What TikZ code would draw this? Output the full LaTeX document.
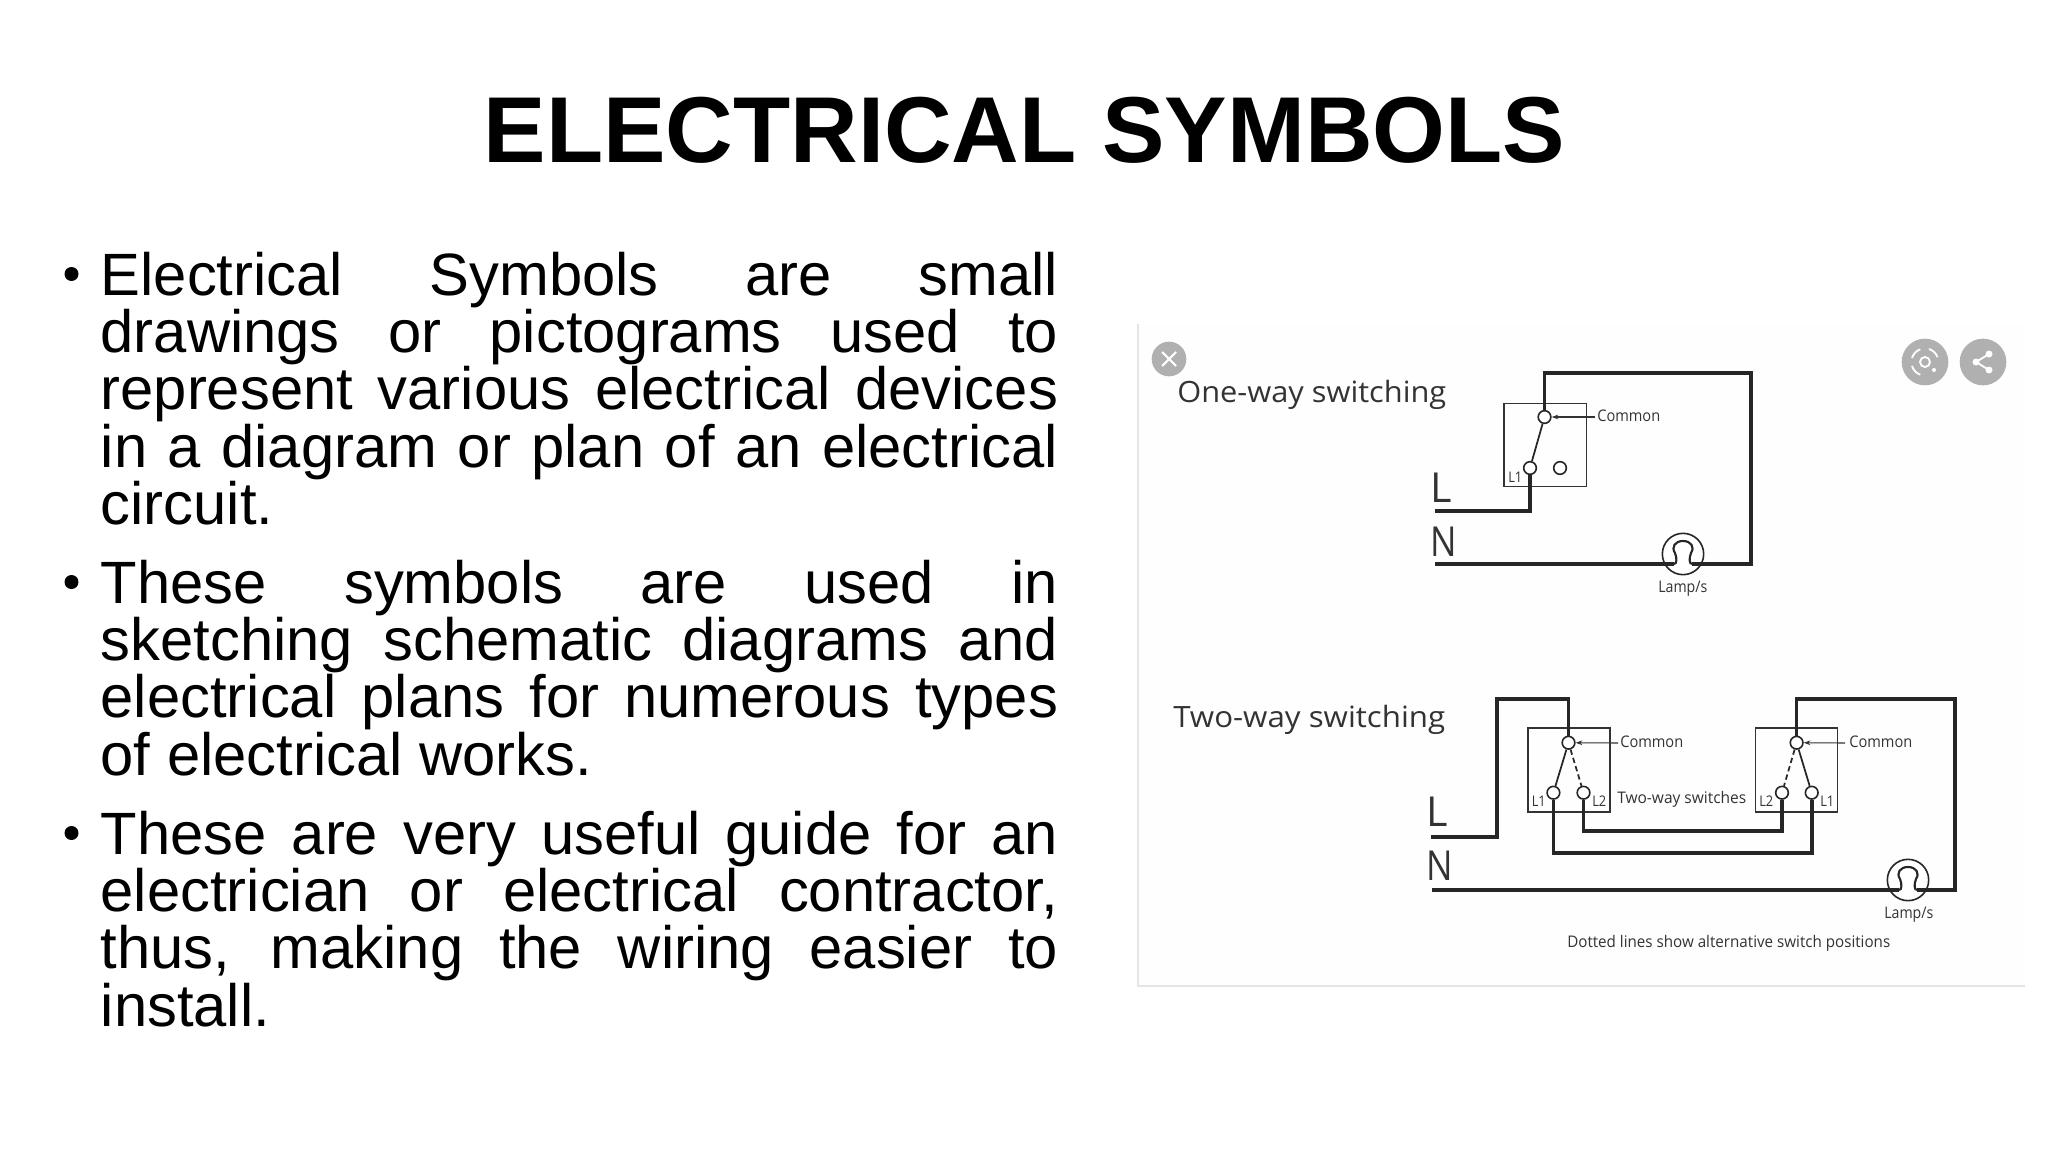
\documentclass[tikz,border=0pt]{standalone}
\usepackage{fontspec}
\usepackage{graphicx}
\setmainfont{Liberation Sans}
\newfontfamily\lblfont{Open Sans}
\usetikzlibrary{arrows.meta}
\newcommand{\fw}[2]{\resizebox{\dimexpr#1pt*3/4\relax}{\height}{#2}}
\tikzset{
  x=0.75pt,y=-0.75pt,
  wire/.style={line width=2.7pt,draw=black!85,line join=miter},
  thin box/.style={draw=black!80,line width=1.1pt,inner sep=0,rectangle},
  term/.style={circle,draw=black!85,fill=white,line width=1.2pt,minimum size=9.5pt,inner sep=0},
  arm/.style={line width=1.3pt,draw=black!85},
  alt arm/.style={arm,dash pattern=on 4pt off 2.5pt},
  lead/.style={line width=.8pt,draw=black!80,-{Stealth[length=5pt,width=3.5pt]}},
  lbl/.style={inner sep=0,anchor=base west,text=black!80},
  headline/.style={inner sep=0,anchor=base,font=\fontsize{70.2}{80}\selectfont\bfseries},
  para/.style={inner sep=0,anchor=base west,text width=718pt,align=justify,font=\fontsize{44.8}{43}\selectfont},
  lampring/.style={circle,draw=black!85,fill=white,line width=1.2pt,minimum size=31pt,inner sep=0},
  icon/.style={circle,fill=black!31,inner sep=0,draw=none},
}
\newcommand{\lampcoil}[1]{%
  \draw[line width=1.6pt,draw=black!85] (#1l) .. controls ([shift={(-6,10)}]#1.center) and ([shift={(-6,4)}]#1.center) .. ([shift={(-8,-1)}]#1.center)
   .. controls ([shift={(-12,-7)}]#1.center) and ([shift={(-8,-13)}]#1.center) .. ([shift={(0,-13)}]#1.center)
   .. controls ([shift={(8,-13)}]#1.center) and ([shift={(12,-7)}]#1.center) .. ([shift={(8,-1)}]#1.center)
   .. controls ([shift={(6,4)}]#1.center) and ([shift={(6,10)}]#1.center) .. (#1r);}
\begin{document}
\begin{tikzpicture}
\useasboundingbox (0,0) rectangle (2048,1152);
\fill[white] (0,0) rectangle (2048,1152);
% title
\node[headline] (title) at (1024.5,163) {ELECTRICAL SYMBOLS};
% bullets
\node[para] (p1) at (100.5,295) {\tolerance=9999 \hbadness=10000 Electrical Symbols are small\linebreak drawings or pictograms used to\linebreak represent various electrical devices\linebreak in a diagram or plan of an electrical\linebreak circuit.};
\node[para] (p2) at (100.5,603) {\tolerance=9999 \hbadness=10000 These symbols are used in\linebreak sketching schematic diagrams and\linebreak electrical plans for numerous types\linebreak of electrical works.};
\node[para] (p3) at (100.5,854) {\tolerance=9999 \hbadness=10000 These are very useful guide for an\linebreak electrician or electrical contractor,\linebreak thus, making the wiring easier to\linebreak install.};
\fill (71.5,274) circle (7);
\fill (71.5,582) circle (7);
\fill (71.5,833) circle (7);
% image panel
\fill[black!0.4] (1138,324) rectangle (2025,986);
\draw[black!10,line width=1pt] (1138,324) -- (1138,986) -- (2025,986);
% icons
\node[icon,minimum size=26pt] (close) at (1169,359) {};
\draw[white,line width=1.6pt] ([shift={(-7,-7)}]close.center) -- ([shift={(7,7)}]close.center) ([shift={(7,-7)}]close.center) -- ([shift={(-7,7)}]close.center);
\node[icon,minimum size=35pt] (scan) at (1925,362) {};
\draw[white,line width=1.4pt] (scan.center) circle (5);
\fill[white] ([shift={(9,8)}]scan.center) circle (2);
\draw[white,line width=1.4pt] ([shift={(-13,-4)}]scan.center) arc (197:250:13.5);
\draw[white,line width=1.4pt] ([shift={(4,-13)}]scan.center) arc (-72:-20:13.5);
\draw[white,line width=1.4pt] ([shift={(-13,4)}]scan.center) arc (163:110:13.5);
\node[icon,minimum size=35pt] (share) at (1983,362) {};
\fill[white] ([shift={(-7,0)}]share.center) circle (3.5) ([shift={(6,-8)}]share.center) circle (3.5) ([shift={(6,8)}]share.center) circle (3.5);
\draw[white,line width=1.4pt] ([shift={(6,-8)}]share.center) -- ([shift={(-7,0)}]share.center) -- ([shift={(6,8)}]share.center);

% ---- One-way switching
\node[lbl,font=\lblfont\fontsize{22}{26}\selectfont] (t1) at (1177,402) {\fw{269}{One-way switching}};
\node[thin box,minimum width=62pt,minimum height=62pt] (b1) at (1545.3,445) {};
\coordinate (w1a) at (1544.5,373);
\coordinate (w1b) at (1751,373);
\coordinate (w1c) at (1751,564);
\coordinate (n1) at (1435,564);
\coordinate (l1) at (1435,511);
\node[lampring] (lamp1) at (1683,554) {};
\coordinate (lamp1l) at (1674,564);
\coordinate (lamp1r) at (1692,564);
\node[term] (c1) at (1544.5,417) {};
\node[term] (a1) at (1530,468) {};
\node[term] (d1) at (1560,468) {};
\draw[wire] (c1.north) -- (w1a) -- (w1b) -- (w1c) -- (lamp1r);
\draw[wire] (n1) -- (lamp1l);
\draw[wire] (a1.south) |- (l1);
\draw[arm] (c1) -- (a1);
\lampcoil{lamp1}
\coordinate (h1) at (1594.5,417);
\draw[lead] (h1) -- (c1);
\node[lbl,font=\lblfont\fontsize{12}{14}\selectfont] (cm1) at (1597,421) {\fw{63}{Common}};
\node[lbl,font=\lblfont\fontsize{11}{13}\selectfont] (tl1) at (1508,482) {\fw{14}{L1}};
\node[lbl,font=\lblfont\fontsize{31}{36}\selectfont] (L1) at (1430,502) {L};
\node[lbl,font=\lblfont\fontsize{31}{36}\selectfont] (N1) at (1430.5,556) {\scalebox{.85}[1]{N}};
\node[lbl,font=\lblfont\fontsize{12}{14}\selectfont] (ls1) at (1658,592) {\fw{49}{Lamp/s}};

% ---- Two-way switching
\node[lbl,font=\lblfont\fontsize{22}{26}\selectfont] (t2) at (1173,727) {\fw{272}{Two-way switching}};
\node[thin box,minimum width=61.5pt,minimum height=63pt] (b2) at (1569,770) {};
\node[thin box,minimum width=61.5pt,minimum height=63pt] (b3) at (1796.7,770) {};
\coordinate (w2a) at (1431,837);
\coordinate (w2b) at (1497,699);
\coordinate (w2c) at (1568.5,699);
\coordinate (w2d) at (1796.6,699);
\coordinate (w2e) at (1955,699);
\coordinate (w2f) at (1955,890);
\coordinate (n2) at (1432.4,890);
\coordinate (y2) at (0,831);
\coordinate (y1) at (0,852.7);
\node[lampring] (lamp2) at (1908,880) {};
\coordinate (lamp2l) at (1899,890);
\coordinate (lamp2r) at (1917,890);
\node[term] (c2) at (1568.5,742.7) {};
\node[term] (a2) at (1553.4,792.7) {};
\node[term] (e2) at (1583.5,792.7) {};
\node[term] (c3) at (1796.6,742.7) {};
\node[term] (e3) at (1782,792.7) {};
\node[term] (a3) at (1811.7,792.7) {};
\draw[wire] (w2a) -| (w2b) -- (w2c) -- (c2.north);
\draw[wire] (c3.north) -- (w2d) -- (w2e) -- (w2f) -- (lamp2r);
\draw[wire] (n2) -- (lamp2l);
\draw[wire] (e2.south) -- (e2.south |- y2) -- (e3.south |- y2) -- (e3.south);
\draw[wire] (a2.south) -- (a2.south |- y1) -- (a3.south |- y1) -- (a3.south);
\draw[arm] (c2) -- (a2);
\draw[alt arm] (c2) -- (e2);
\draw[arm] (c3) -- (a3);
\draw[alt arm] (c3) -- (e3);
\lampcoil{lamp2}
\coordinate (h2) at (1618,743);
\coordinate (h3) at (1845,743);
\draw[lead] (h2) -- (c2);
\draw[lead] (h3) -- (c3);
\node[lbl,font=\lblfont\fontsize{12}{14}\selectfont] (cm2) at (1620,747) {\fw{63}{Common}};
\node[lbl,font=\lblfont\fontsize{12}{14}\selectfont] (cm3) at (1849,747) {\fw{63}{Common}};
\node[lbl,font=\lblfont\fontsize{11}{13}\selectfont] (tl2) at (1531.5,806) {\fw{14}{L1}};
\node[lbl,font=\lblfont\fontsize{11}{13}\selectfont] (tl3) at (1592,806) {\fw{14}{L2}};
\node[lbl,font=\lblfont\fontsize{11}{13}\selectfont] (tl4) at (1759,806) {\fw{14}{L2}};
\node[lbl,font=\lblfont\fontsize{11}{13}\selectfont] (tl5) at (1820,806) {\fw{14}{L1}};
\node[lbl,font=\lblfont\fontsize{12}{14}\selectfont] (sw) at (1617,803) {\fw{129}{Two-way switches}};
\node[lbl,font=\lblfont\fontsize{31}{36}\selectfont] (L2) at (1426.5,826) {L};
\node[lbl,font=\lblfont\fontsize{31}{36}\selectfont] (N2) at (1426.5,880) {\scalebox{.85}[1]{N}};
\node[lbl,font=\lblfont\fontsize{12}{14}\selectfont] (ls2) at (1884,918) {\fw{49}{Lamp/s}};
\node[lbl,font=\lblfont\fontsize{12}{14}\selectfont] (dot) at (1567,947) {\fw{323}{Dotted lines show alternative switch positions}};
\end{tikzpicture}
\end{document}
